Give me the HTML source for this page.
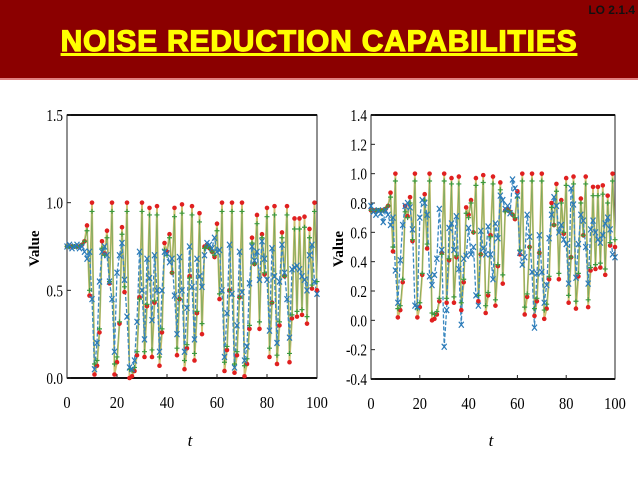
<!DOCTYPE html>
<html><head><meta charset="utf-8"><style>
body{margin:0;width:638px;height:478px;overflow:hidden;background:#fff;font-family:"Liberation Sans",sans-serif}
#hdr{position:absolute;left:0;top:0;width:638px;height:78px;background:#8b0000;border-bottom:2px solid #e08080}
#title{position:absolute;left:0;width:638px;top:25px;text-align:center;color:#ffff00;font-weight:bold;font-size:30px;text-decoration:underline;-webkit-text-stroke:1.2px #ffff00;letter-spacing:0.8px}
#lo{position:absolute;right:3px;top:3px;font-size:12px;font-weight:bold;color:#111}
svg{position:absolute;left:0;top:0}
</style></head><body>
<div id="hdr">
<div id="lo">LO 2.1.4</div>
<div id="title">NOISE REDUCTION CAPABILITIES</div>
</div>
<svg id="c" width="638" height="478"></svg>
<script>
const red=[0.75,0.75,0.75,0.75,0.75,0.75,0.76,0.78,0.87,0.47,1.0,0.02,0.07,0.26,0.78,0.71,0.84,0.54,1.0,0.02,0.09,0.31,0.86,0.49,1.0,0.0,0.01,0.04,0.13,0.46,1.0,0.12,0.41,0.97,0.12,0.43,0.98,0.07,0.26,0.77,0.72,0.82,0.6,0.97,0.13,0.45,0.99,0.05,0.17,0.58,0.98,0.1,0.37,0.94,0.25,0.75,0.76,0.74,0.72,0.69,0.88,0.45,1.0,0.04,0.16,0.5,1.0,0.03,0.13,0.46,1.0,0.01,0.08,0.28,0.8,0.65,0.93,0.28,0.82,0.59,0.97,0.12,0.43,0.98,0.08,0.3,0.83,0.58,0.98,0.09,0.34,0.91,0.35,0.91,0.36,0.92,0.31,0.85,0.51,1.0,0.5];
const green=[0.75,0.75,0.75,0.75,0.75,0.75,0.76,0.78,0.84,0.50,0.95,0.08,0.1,0.28,0.74,0.70,0.80,0.55,0.95,0.08,0.12,0.32,0.82,0.52,0.95,0.05,0.04,0.06,0.15,0.45,0.95,0.15,0.42,0.93,0.16,0.44,0.93,0.12,0.28,0.73,0.70,0.80,0.60,0.92,0.17,0.45,0.94,0.10,0.19,0.57,0.93,0.14,0.38,0.89,0.31,0.74,0.75,0.74,0.72,0.70,0.84,0.48,0.95,0.09,0.18,0.5,0.95,0.08,0.15,0.46,0.95,0.07,0.11,0.3,0.77,0.65,0.88,0.32,0.8,0.6,0.92,0.17,0.43,0.93,0.13,0.32,0.8,0.58,0.93,0.14,0.36,0.85,0.38,0.85,0.39,0.86,0.35,0.8,0.53,0.95,0.55];
const blueL=[0.75,0.76,0.74,0.75,0.76,0.74,0.75,0.72,0.68,0.72,0.45,0.05,0.2,0.55,0.72,0.75,0.7,0.55,0.45,0.15,0.6,0.7,0.77,0.56,0.35,0.06,0.05,0.1,0.32,0.72,0.5,0.22,0.68,0.57,0.33,0.7,0.5,0.15,0.5,0.72,0.71,0.66,0.68,0.47,0.25,0.69,0.5,0.15,0.4,0.75,0.52,0.22,0.68,0.58,0.52,0.7,0.77,0.76,0.74,0.8,0.72,0.73,0.5,0.12,0.37,0.76,0.48,0.06,0.3,0.72,0.49,0.1,0.18,0.54,0.75,0.67,0.72,0.56,0.78,0.68,0.56,0.27,0.74,0.58,0.2,0.55,0.76,0.6,0.45,0.23,0.62,0.63,0.64,0.62,0.58,0.56,0.5,0.7,0.76,0.55,0.48];
const blueR=[0.78,0.74,0.72,0.75,0.73,0.67,0.75,0.72,0.65,0.70,0.34,0.12,0.41,0.65,0.78,0.8,0.77,0.62,0.1,0.09,0.7,0.82,0.8,0.72,0.3,0.24,0.31,0.42,0.76,0.48,-0.18,0.07,0.63,0.66,0.48,0.71,0.35,-0.03,0.42,0.44,0.63,0.45,0.5,0.17,0.1,0.61,0.49,0.45,0.64,0.45,0.28,0.66,0.56,0.85,0.82,0.76,0.78,0.73,0.96,0.9,0.85,0.46,0.38,0.43,0.72,0.57,0.33,-0.05,0.32,0.58,0.33,0.12,0.24,0.56,0.72,0.84,0.78,0.6,0.65,0.55,0.52,0.25,0.9,0.79,0.29,0.52,0.72,0.68,0.5,0.25,0.62,0.68,0.6,0.55,0.53,0.58,0.66,0.7,0.62,0.45,0.43];
const xTicks=[0,20,40,60,80,100];
const yTicksL=["0.0","0.5","1.0","1.5"];
const yTicksR=["-0.4","-0.2","0.0","0.2","0.4","0.6","0.8","1.0","1.2","1.4"];
const NS="http://www.w3.org/2000/svg";
const svg=document.getElementById('c');
function mk(tag,attrs,parent,name){const e=document.createElementNS(NS,tag);for(const k in attrs)e.setAttribute(k,attrs[k]);


(parent||svg).appendChild(e);return e;}
function chart(id,x0,x1,y0,y1,ymin,ymax,yTicks,blue){
  const g=mk('g',{},svg,id);
  const sx=t=>x0+(t-0)/100*(x1-x0);
  const sy=v=>y1-(v-ymin)/(ymax-ymin)*(y1-y0);
  mk('rect',{x:x0,y:y0,width:x1-x0,height:y1-y0,fill:'none',stroke:'#222','stroke-width':1},g,'plot-frame');
  mk('line',{x1:x0,y1:y0,x2:x1,y2:y0,stroke:'#111','stroke-width':2},g,'top-axis');
  mk('line',{x1:x0,y1:y1,x2:x1,y2:y1,stroke:'#111','stroke-width':2},g,'x-axis');
  xTicks.forEach(t=>{mk('line',{x1:sx(t),y1:y1,x2:sx(t),y2:y1-4,stroke:'#222'},g,'x-tick');
    const tx=mk('text',{x:sx(t),y:y1+30,'text-anchor':'middle','font-family':'Liberation Serif, serif','font-size':17,transform:`translate(${sx(t)},0) scale(0.85,1) translate(${-sx(t)},0)`},g,'x-tick-label');tx.textContent=t;});
  yTicks.forEach(s=>{const v=parseFloat(s);mk('line',{x1:x0,y1:sy(v),x2:x0+4,y2:sy(v),stroke:'#222'},g,'y-tick');
    const tx=mk('text',{x:x0-4,y:sy(v)+6,'text-anchor':'end','font-family':'Liberation Serif, serif','font-size':17,transform:`translate(${x0-4},0) scale(0.78,1) translate(${-(x0-4)},0)`},g,'y-tick-label');tx.textContent=s;});
  const xl=mk('text',{x:(x0+x1)/2-2,y:446,'text-anchor':'middle','font-family':'Liberation Serif, serif','font-size':17,'font-style':'italic'},g,'x-axis-title');xl.textContent='t';
  const cy=(y0+y1)/2+2, cx=x0-28;
  const yl=mk('text',{x:cx,y:cy,'text-anchor':'middle','font-family':'Liberation Serif, serif','font-size':15,'font-weight':'bold',transform:`rotate(-90 ${cx} ${cy})`},g,'y-axis-title');yl.textContent='Value';
  const pts=a=>a.map((v,i)=>sx(i).toFixed(1)+','+sy(v).toFixed(1)).join(' ');
  mk('polyline',{points:pts(red),fill:'none',stroke:'#cfc070','stroke-width':1.8},g,'true-signal-line');
  mk('polyline',{points:pts(green),fill:'none',stroke:'#7aaa60','stroke-width':0.8},g,'filtered-line');
  mk('polyline',{points:pts(blue),fill:'none',stroke:'#3a88c0','stroke-width':1.3,'stroke-dasharray':'4,2'},g,'noisy-line');
  red.forEach((v,i)=>{mk('circle',{cx:sx(i),cy:sy(v),r:2.3,fill:'#e02020'},g,'true-point');});
  green.forEach((v,i)=>{const X=sx(i),Y=sy(v);mk('path',{d:`M${X-2.5},${Y}h5M${X},${Y-2.5}v5`,stroke:'#3a9a40','stroke-width':1.2},g,'filtered-point');});
  blue.forEach((v,i)=>{const X=sx(i),Y=sy(v);mk('path',{d:`M${X-2.5},${Y-3}L${X+2.5},${Y+3}M${X+2.5},${Y-3}L${X-2.5},${Y+3}`,stroke:'#2a7ab8','stroke-width':1.2},g,'noisy-point');});
}
chart('left-chart',67,317,115,378,0,1.5,yTicksL,blueL);
chart('right-chart',371,615,115,379,-0.4,1.4,yTicksR,blueR);
</script>
</body></html>
